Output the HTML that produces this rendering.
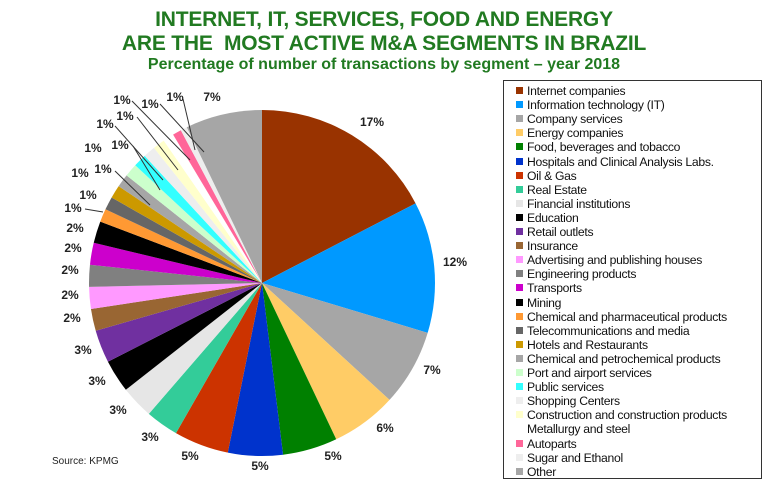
<!DOCTYPE html>
<html><head><meta charset="utf-8"><style>
body{margin:0;width:768px;height:486px;background:#fff;font-family:"Liberation Sans",Arial,sans-serif;position:relative;overflow:hidden}
.t{position:absolute;left:0;width:768px;text-align:center;color:#217a21;font-weight:bold}
.leg{position:absolute;left:503px;top:80px;width:259px;height:399px;border:1px solid #333;box-sizing:border-box}
.row{position:absolute;left:12px;font-size:12.2px;letter-spacing:-0.3px;color:#111;white-space:nowrap;line-height:14px}
.row i{display:inline-block;width:7px;height:7px;margin-right:4px;vertical-align:1px}
.lb{position:absolute;font-size:12px;font-weight:bold;color:#222;transform:translate(-50%,-50%)}
</style></head><body>
<div class="t" style="top:8px;font-size:21px;letter-spacing:-0.2px">INTERNET, IT, SERVICES, FOOD AND ENERGY</div>
<div class="t" style="top:32px;font-size:21px;letter-spacing:-0.2px">ARE THE&nbsp; MOST ACTIVE M&amp;A SEGMENTS IN BRAZIL</div>
<div class="t" style="top:56px;font-size:16px">Percentage of number of transactions by segment – year 2018</div>
<svg id="pie" width="768" height="486" style="position:absolute;left:0;top:0"></svg>
<div class="leg" id="leg"></div>
<div style="position:absolute;left:52px;top:456px;font-size:10px;color:#222">Source: KPMG</div>
<div id="labels"></div>
<script>
var d=[["Internet companies",17,"#993300"],["Information technology (IT)",12,"#0099ff"],["Company services",7,"#a6a6a6"],["Energy companies",6,"#ffcc66"],["Food, beverages and tobacco",5,"#008000"],["Hospitals and Clinical Analysis Labs.",5,"#0033cc"],["Oil & Gas",5,"#cc3300"],["Real Estate",3,"#33cc99"],["Financial institutions",3,"#e6e6e6"],["Education",3,"#000000"],["Retail outlets",3,"#7030a0"],["Insurance",2,"#996633"],["Advertising and publishing houses",2,"#ff99ff"],["Engineering  products",2,"#808080"],["Transports",2,"#cc00cc"],["Mining",2,"#000000"],["Chemical and pharmaceutical products",1.2,"#ff9933"],["Telecommunications and media",1.2,"#666666"],["Hotels and Restaurants",1.2,"#cc9900"],["Chemical and petrochemical products",1.2,"#a6a6a6"],["Port  and airport services",1.2,"#ccffcc"],["Public services",1.2,"#33ffff"],["Shopping Centers",1.1,"#eeeeee"],["Construction and construction products",1.1,"#ffffcc"],["Metallurgy and steel",1,"#ffffff"],["Autoparts",0.8,"#ff6699"],["Sugar and Ethanol",0.6,"#eeeeee"],["Other",7,"#a6a6a6"]];
var tot=0;d.forEach(function(e){tot+=e[1]});
var cx=262,cy=283,r=173,a=0,s="",L="";
d.forEach(function(e,i){var b=a+e[1]/tot*2*Math.PI;
var x1=cx+r*Math.sin(a),y1=cy-r*Math.cos(a),x2=cx+r*Math.sin(b),y2=cy-r*Math.cos(b);
s+='<path d="M'+cx+','+cy+'L'+x1+','+y1+'A'+r+','+r+' 0 '+((b-a)>Math.PI?1:0)+' 1 '+x2+','+y2+'Z" fill="'+e[2]+'"/>';
a=b;
L+='<div class="row" style="top:'+(3+i*14.1)+'px"><i style="background:'+e[2]+'"></i>'+e[0].replace(/&/g,'&amp;')+'</div>';});
document.getElementById('pie').innerHTML=s+
'<g stroke="#333" stroke-width="1" fill="none"><path d="M132,101 L190,160"/><path d="M160,104 L204,152"/><path d="M183,99 L195,150"/><path d="M137,117 L178,170"/><path d="M115,126 L163,180"/><path d="M133,146 L160,190"/><path d="M115,171 L150,205"/><path d="M85,209 L103,212"/></g>';
document.getElementById('leg').innerHTML=L;
var lb=[["17%",372,122],["12%",455,262],["7%",432,370],["6%",385,428],["5%",333,456],["5%",260,466],["5%",190,456],["3%",150,437],["3%",118,410],["3%",97,381],["3%",83,350],["2%",72,318],["2%",70,295],["2%",70,270],["2%",73,248],["2%",75,228],["1%",73,208],["1%",88,195],["1%",80,173],["1%",103,169],["1%",93,148],["1%",120,145],["1%",105,124],["1%",125,116],["1%",122,100],["1%",150,104],["1%",175,97],["7%",212,97]];
var h="";lb.forEach(function(e){h+='<div class="lb" style="left:'+e[1]+'px;top:'+e[2]+'px">'+e[0]+'</div>'});
document.getElementById('labels').innerHTML=h;
</script>
</body></html>
